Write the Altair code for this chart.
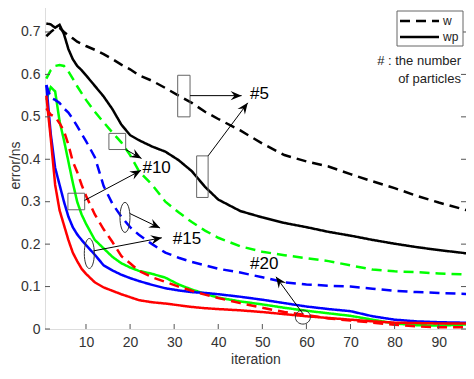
import math
import altair as alt
import pandas as pd

# ---------------- data ----------------
iterations = [1, 2, 3, 4, 5, 6, 7, 8, 9, 10, 12, 14, 16, 18, 20, 22, 25, 28, 31, 34,
              37, 40, 45, 50, 55, 60, 65, 70, 75, 80, 85, 90, 95, 98]

w5 = [0.69, 0.70, 0.708, 0.71, 0.70, 0.692, 0.685, 0.677, 0.672, 0.667, 0.658, 0.648, 0.636,
      0.623, 0.612, 0.598, 0.585, 0.568, 0.55, 0.533, 0.512, 0.495, 0.468, 0.437, 0.41, 0.395,
      0.383, 0.365, 0.348, 0.332, 0.314, 0.298, 0.284, 0.275]
wp5 = [0.72, 0.718, 0.71, 0.717, 0.695, 0.66, 0.636, 0.62, 0.61, 0.598, 0.573, 0.548, 0.518,
       0.482, 0.457, 0.445, 0.43, 0.418, 0.398, 0.372, 0.335, 0.305, 0.278, 0.263, 0.25, 0.24,
       0.229, 0.22, 0.21, 0.201, 0.193, 0.186, 0.18, 0.176]
w10 = [0.59, 0.61, 0.62, 0.622, 0.62, 0.607, 0.59, 0.572, 0.556, 0.54, 0.512, 0.487, 0.463,
       0.44, 0.41, 0.372, 0.34, 0.3, 0.275, 0.252, 0.232, 0.215, 0.195, 0.182, 0.174, 0.167,
       0.16, 0.15, 0.14, 0.136, 0.134, 0.131, 0.129, 0.128]
wp10 = [0.54, 0.57, 0.56, 0.49, 0.445, 0.395, 0.345, 0.3, 0.27, 0.248, 0.21, 0.19, 0.17,
        0.155, 0.145, 0.137, 0.13, 0.121, 0.105, 0.093, 0.083, 0.074, 0.065, 0.058, 0.05,
        0.043, 0.037, 0.031, 0.022, 0.013, 0.009, 0.008, 0.01, 0.012]
w15 = [0.575, 0.545, 0.54, 0.533, 0.52, 0.51, 0.495, 0.478, 0.46, 0.443, 0.405, 0.337, 0.295,
       0.265, 0.24, 0.222, 0.2, 0.18, 0.168, 0.158, 0.15, 0.142, 0.133, 0.122, 0.11, 0.105,
       0.102, 0.1, 0.095, 0.09, 0.087, 0.085, 0.083, 0.082]
wp15 = [0.575, 0.46, 0.38, 0.34, 0.3, 0.265, 0.24, 0.223, 0.21, 0.198, 0.175, 0.15, 0.138,
        0.128, 0.12, 0.113, 0.104, 0.096, 0.091, 0.087, 0.085, 0.082, 0.076, 0.069, 0.061,
        0.053, 0.047, 0.042, 0.03, 0.022, 0.018, 0.016, 0.015, 0.015]
w20 = [0.52, 0.505, 0.5, 0.485, 0.467, 0.435, 0.395, 0.37, 0.34, 0.314, 0.27, 0.235, 0.205,
       0.172, 0.155, 0.137, 0.122, 0.111, 0.1, 0.09, 0.081, 0.073, 0.061, 0.05, 0.04, 0.033,
       0.025, 0.02, 0.015, 0.01, 0.006, 0.004, 0.004, 0.005]
wp20 = [0.55, 0.45, 0.34, 0.28, 0.245, 0.21, 0.18, 0.16, 0.142, 0.13, 0.11, 0.098, 0.09,
        0.082, 0.075, 0.068, 0.063, 0.06, 0.056, 0.052, 0.049, 0.047, 0.044, 0.04, 0.035,
        0.03, 0.026, 0.022, 0.018, 0.015, 0.014, 0.013, 0.013, 0.013]

series = [("w5", w5, "black", True), ("wp5", wp5, "black", False),
          ("w10", w10, "#00ff00", True), ("wp10", wp10, "#00ff00", False),
          ("w15", w15, "#0000ff", True), ("wp15", wp15, "#0000ff", False),
          ("w20", w20, "#ff0000", True), ("wp20", wp20, "#ff0000", False)]

x_ticks = [10, 20, 30, 40, 50, 60, 70, 80, 90]
y_ticks = [0, 0.1, 0.2, 0.3, 0.4, 0.5, 0.6, 0.7]

# annotations (data coordinates)
ann_rects = pd.DataFrame({"x": [30.8, 35.1, 15.2, 5.9], "x2": [33.6, 37.7, 19.0, 9.7],
                          "y": [0.598, 0.408, 0.461, 0.32], "y2": [0.50, 0.31, 0.423, 0.281]})
ann_arrows = pd.DataFrame({"x": [33.6, 37.7, 19.0, 9.66, 19.98, 11.66, 59.2],
                           "y": [0.55, 0.408, 0.423, 0.303, 0.272, 0.184, 0.036],
                           "x2": [45.3, 46.7, 22.6, 22.5, 26.8, 27.2, 53.1],
                           "y2": [0.55, 0.533, 0.402, 0.374, 0.238, 0.215, 0.123]})
ann_labels = pd.DataFrame({"x": [47.2, 22.8, 29.7, 47.2], "y": [0.553, 0.379, 0.211, 0.153],
                           "t": ["#5", "#10", "#15", "#20"]})
ann_ellipses = pd.DataFrame({"x": [18.84, 10.75], "y": [0.263, 0.178]})
ann_circle = pd.DataFrame({"x": [59.2], "y": [0.028]})

# ---------------- layout ----------------
W, H = 421, 329
XDOM = [0.7, 96.2]
YDOM = [0, 0.7754]
FONT = "Liberation Sans"
sx = W / (XDOM[1] - XDOM[0])
sy = H / (YDOM[1] - YDOM[0])

ann_arrows["angle"] = [
    math.degrees(math.atan2(-(r.y2 - r.y) * sy, (r.x2 - r.x) * sx)) % 360
    for r in ann_arrows.itertuples()]

xs = alt.Scale(domain=XDOM, nice=False, zero=False)
ys = alt.Scale(domain=YDOM, nice=False, zero=False)

x_axis = alt.Axis(values=x_ticks, ticks=False, tickSize=0, domain=False, grid=False,
                  labelFontSize=14, labelFont=FONT, labelColor="#333333", labelPadding=6,
                  title="iteration", titleFont=FONT, titleFontSize=14, titleFontWeight="normal",
                  titleColor="#333333", titlePadding=3)
y_axis = alt.Axis(values=y_ticks, ticks=False, tickSize=0, domain=False, grid=False,
                  format=".1~f", labelFontSize=14, labelFont=FONT, labelColor="#333333",
                  labelPadding=5, title="error/ns", titleFont=FONT, titleFontSize=14,
                  titleFontWeight="normal", titleColor="#333333", titleX=-30, titleY=165,
                  titleBaseline="middle")


def X(field):
    return alt.X(field, scale=xs, axis=x_axis)


def Y(field):
    return alt.Y(field, scale=ys, axis=y_axis)


layers = []
for name, vals, color, dashed in series:
    df = pd.DataFrame({"iteration": iterations, "value": vals})
    layers.append(alt.Chart(df).mark_line(
        color=color, strokeWidth=2.5, clip=True,
        strokeDash=[10, 6] if dashed else [1, 0]).encode(
        x=X("iteration:Q"), y=Y("value:Q")))

# inward tick marks (MATLAB box style)
xt = pd.DataFrame({"iteration": x_ticks})
yt = pd.DataFrame({"value": y_ticks})
tick_col = "#555555"
layers.append(alt.Chart(xt).mark_rule(color=tick_col).encode(
    x=X("iteration:Q"), y=alt.value(H), y2=alt.value(H - 5)))
layers.append(alt.Chart(xt).mark_rule(color=tick_col).encode(
    x=X("iteration:Q"), y=alt.value(0), y2=alt.value(5)))
layers.append(alt.Chart(yt).mark_rule(color=tick_col).encode(
    y=Y("value:Q"), x=alt.value(0), x2=alt.value(5)))
layers.append(alt.Chart(yt).mark_rule(color=tick_col).encode(
    y=Y("value:Q"), x=alt.value(W), x2=alt.value(W - 5)))

# annotation rectangles
layers.append(alt.Chart(ann_rects).mark_rect(filled=False, stroke="#666666",
                                             strokeWidth=1).encode(
    x=X("x:Q"), x2="x2:Q", y=Y("y:Q"), y2="y2:Q"))


def ellipse_path(rx, ry):
    k = 0.5523
    return (f"M {rx} 0 C {rx} {k*ry:.4f} {k*rx:.4f} {ry} 0 {ry} "
            f"C {-k*rx:.4f} {ry} {-rx} {k*ry:.4f} {-rx} 0 "
            f"C {-rx} {-k*ry:.4f} {-k*rx:.4f} {-ry} 0 {-ry} "
            f"C {k*rx:.4f} {-ry} {rx} {-k*ry:.4f} {rx} 0 Z")


layers.append(alt.Chart(ann_ellipses).mark_point(
    shape=ellipse_path(0.333, 1), size=900, filled=False, stroke="#333333",
    strokeWidth=1, opacity=1).encode(x=X("x:Q"), y=Y("y:Q")))
layers.append(alt.Chart(ann_circle).mark_point(
    shape=ellipse_path(1, 0.93), size=225, filled=False, stroke="#333333",
    strokeWidth=1, opacity=1).encode(x=X("x:Q"), y=Y("y:Q")))

# arrows
layers.append(alt.Chart(ann_arrows).mark_rule(color="black", strokeWidth=1).encode(
    x=X("x:Q"), y=Y("y:Q"), x2="x2:Q", y2="y2:Q"))
layers.append(alt.Chart(ann_arrows).mark_point(
    shape="M 0 0 L -1 -0.42 L -0.65 0 L -1 0.42 Z", size=484, filled=True,
    color="black", opacity=1).encode(
    x=X("x2:Q"), y=Y("y2:Q"), angle=alt.Angle("angle:Q", scale=None)))

layers.append(alt.Chart(ann_labels).mark_text(
    align="left", baseline="middle", fontSize=17, font=FONT, color="black").encode(
    x=X("x:Q"), y=Y("y:Q"), text="t:N"))

# legend box (layout element, pixel positions)
leg = alt.Chart(pd.DataFrame({"a": [0]}))
layers.append(leg.mark_rect(fill="white", stroke="#666666", strokeWidth=1).encode(
    x=alt.value(352), x2=alt.value(418), y=alt.value(11), y2=alt.value(46)))
layers.append(leg.mark_rule(color="black", strokeWidth=2.5, strokeDash=[10, 6]).encode(
    x=alt.value(355), x2=alt.value(394), y=alt.value(21)))
layers.append(leg.mark_rule(color="black", strokeWidth=2.5).encode(
    x=alt.value(355), x2=alt.value(394), y=alt.value(37)))
for txt, yy in [("w", 21), ("wp", 37)]:
    layers.append(leg.mark_text(align="left", baseline="middle", fontSize=12, font=FONT,
                                color="#222222", text=txt).encode(
        x=alt.value(398), y=alt.value(yy)))
for txt, yy in [("# : the number", 61), ("of particles", 79)]:
    layers.append(leg.mark_text(align="right", baseline="middle", fontSize=13, font=FONT,
                                color="#222222", text=txt).encode(
        x=alt.value(416), y=alt.value(yy)))

chart = alt.layer(*layers).properties(
    width=W, height=H, autosize="none",
    padding={"left": 37, "top": -8, "right": 0, "bottom": 38},
).configure_view(stroke="#555555", strokeWidth=1).configure(background="white")

chart.save("out.html", embed_options={"renderer": "svg", "actions": False})
